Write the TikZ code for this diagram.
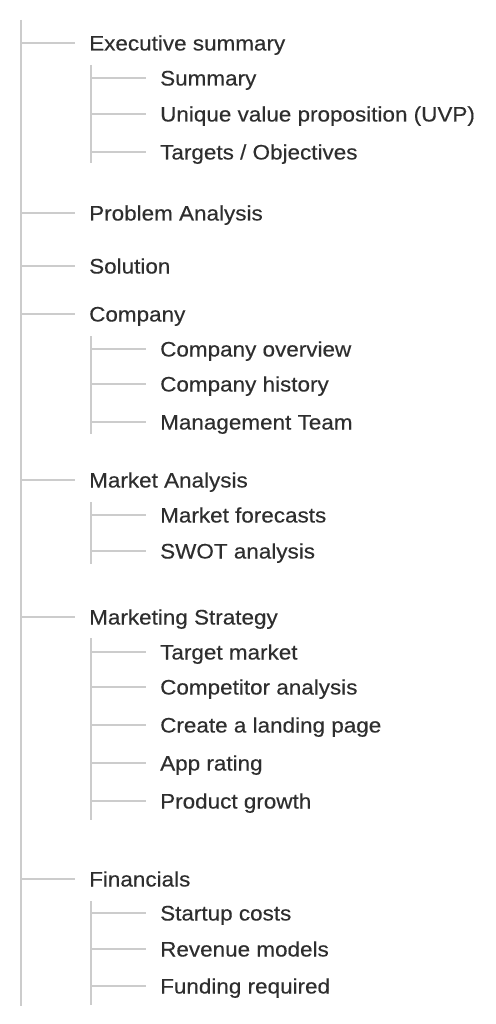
\documentclass[tikz,border=0pt]{standalone}
\usepackage{fontspec}
\setmainfont{Liberation Sans}[FakeStretch=1.07,FakeBold=0.3]
\definecolor{linegray}{HTML}{CCCCCC}
\definecolor{textgray}{HTML}{2E2E2E}
\begin{document}
\begin{tikzpicture}[x=1pt,y=-1pt,
  trunk/.style={draw=linegray,line width=1.8pt},
  branch/.style={draw=linegray,line width=1.6pt},
  item/.style={anchor=west,inner xsep=14pt,inner ysep=0pt,text height=15pt,text depth=0pt,
    font=\fontsize{21}{25}\selectfont,text=textgray}]
\useasboundingbox[fill=white] (0,0) rectangle (495,1024);
% main trunk
\coordinate (mt) at (21,20);
\coordinate (mb) at (21,1006);
\draw[trunk] (mt) -- (mb);
% main sections
\foreach \n/\y/\t in {s1/43/Executive summary, s2/213/Problem Analysis, s3/266/Solution,
  s4/314/Company, s5/480/Market Analysis, s6/617/Marketing Strategy, s7/879/Financials}{
  \node[item] (\n) at (75,\y) {\t};
  \coordinate (\n t) at (21,\y);
  \draw[branch] (\n t) -- (\n.west);
}
% sub trunks
\foreach \n/\a/\b in {u1/65/163, u4/336/434, u5/502/564, u6/638/820, u7/901/1005}{
  \coordinate (\n a) at (91,\a);
  \coordinate (\n b) at (91,\b);
  \draw[trunk] (\n a) -- (\n b);
}
% sub items
\foreach \n/\y/\t in {
  a1/78/Summary, a2/114/Unique value proposition (UVP), a3/152/{Targets / Objectives},
  b1/349/Company overview, b2/384/Company history, b3/422/Management Team,
  c1/515/Market forecasts, c2/551/SWOT analysis,
  d1/652/Target market, d2/687/Competitor analysis, d3/725/Create a landing page, d4/763/App rating, d5/801/Product growth,
  e1/913/Startup costs, e2/949/Revenue models, e3/986/Funding required}{
  \node[item] (\n) at (146,\y) {\t};
  \coordinate (\n t) at (91,\y);
  \draw[branch] (\n t) -- (\n.west);
}
\end{tikzpicture}
\end{document}
